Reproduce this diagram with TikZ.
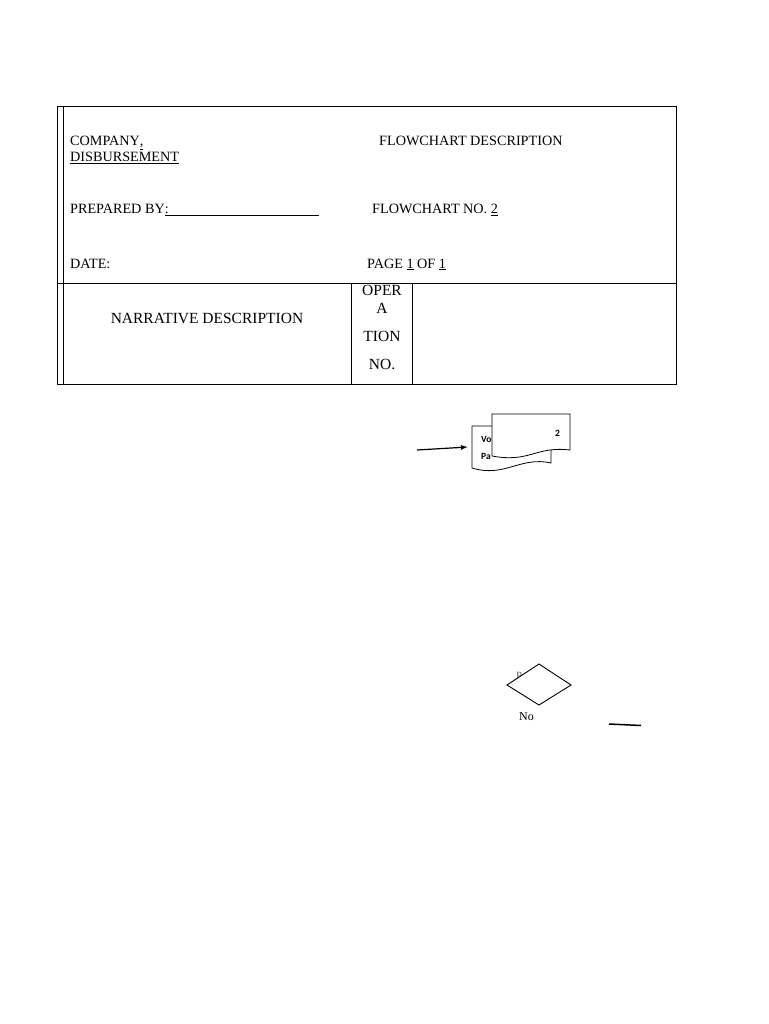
\documentclass[tikz,border=0pt]{standalone}
\usepackage{fontspec}
\setmainfont{Liberation Serif}
\newfontfamily\docfont{Carlito}
\usetikzlibrary{arrows.meta}
\begin{document}
\begin{tikzpicture}[x=1pt,y=-1pt,
  frame/.style={line width=0.8pt},
  hdr/.style={anchor=base west,inner sep=0pt,font=\fontsize{14.2}{16}\selectfont},
  colhdr/.style={anchor=base,inner sep=0pt,font=\fontsize{15.5}{17}\selectfont},
  doctext/.style={anchor=base west,inner sep=0pt,font=\docfont\bfseries\fontsize{9.5}{10}\selectfont},
  docshape/.style={draw,line width=0.8pt,fill=white}]
\useasboundingbox[fill=white] (0,0) rectangle (768,1024);
% header frame
\draw[frame] (57,106) rectangle (676,384);
\draw[frame] (63,106) -- (63,384);
\draw[frame] (57,283) -- (676,283);
\draw[frame] (351,283) -- (351,384);
\draw[frame] (412,283) -- (412,384);
% header texts
\node[hdr] (company) at (70,146) {COMPANY\underline{,}};
\node[hdr] (disb) at (70,162) {\underline{DISBURSEMENT}};
\node[hdr] (fdesc) at (379,146) {FLOWCHART DESCRIPTION};
\node[hdr] (prep) at (70,214) {PREPARED BY\underline{:\hspace*{150pt}}};
\node[hdr] (fno) at (372,214) {FLOWCHART NO. \underline{2}};
\node[hdr] (date) at (70,268) {DATE:};
\node[hdr] (page) at (367,268) {PAGE \underline{1} OF \underline{1}};
\node[colhdr] (narr) at (207,323) {NARRATIVE DESCRIPTION};
\node[colhdr] (op1) at (382,295) {OPER};
\node[colhdr] (op2) at (382,313) {A};
\node[colhdr] (op3) at (382,341) {TION};
\node[colhdr] (op4) at (382,369) {NO.};
% documents
\draw[docshape] (472,426) -- (551,426) -- (551,463)
  .. controls (520,456) and (505,478) .. (472,468) -- cycle;
\coordinate (backdoc) at (468,447);
\node[doctext] (vo) at (481,442) {Vo};
\node[doctext] (pa) at (481,459) {Pa};
\draw[docshape] (492,414) -- (570,414) -- (570,450)
  .. controls (535,446) and (530,463) .. (492,456) -- cycle;
\node[doctext] (two) at (555,436) {2};
\coordinate (arrstart) at (417,450);
\draw[line width=1.2pt,-{Latex[length=7pt,width=5pt]}] (arrstart) -- (backdoc);
% decision
\node[anchor=base west,inner sep=0pt,text=black!60,font=\fontsize{11}{12}\selectfont] (p) at (516,679) {P};
\coordinate (dl) at (507,685);
\coordinate (dt) at (539,664);
\coordinate (dr) at (571,685);
\coordinate (db) at (539,705);
\draw[line width=0.9pt,fill=white] (dl) -- (dt) -- (dr) -- (db) -- cycle;
\node[anchor=base west,inner sep=0pt,font=\fontsize{12}{14}\selectfont] (no) at (519,720) {No};
\coordinate (l1) at (609,724);
\coordinate (l2) at (641,725.5);
\draw[line width=1.5pt] (l1) -- (l2);
\end{tikzpicture}
\end{document}
